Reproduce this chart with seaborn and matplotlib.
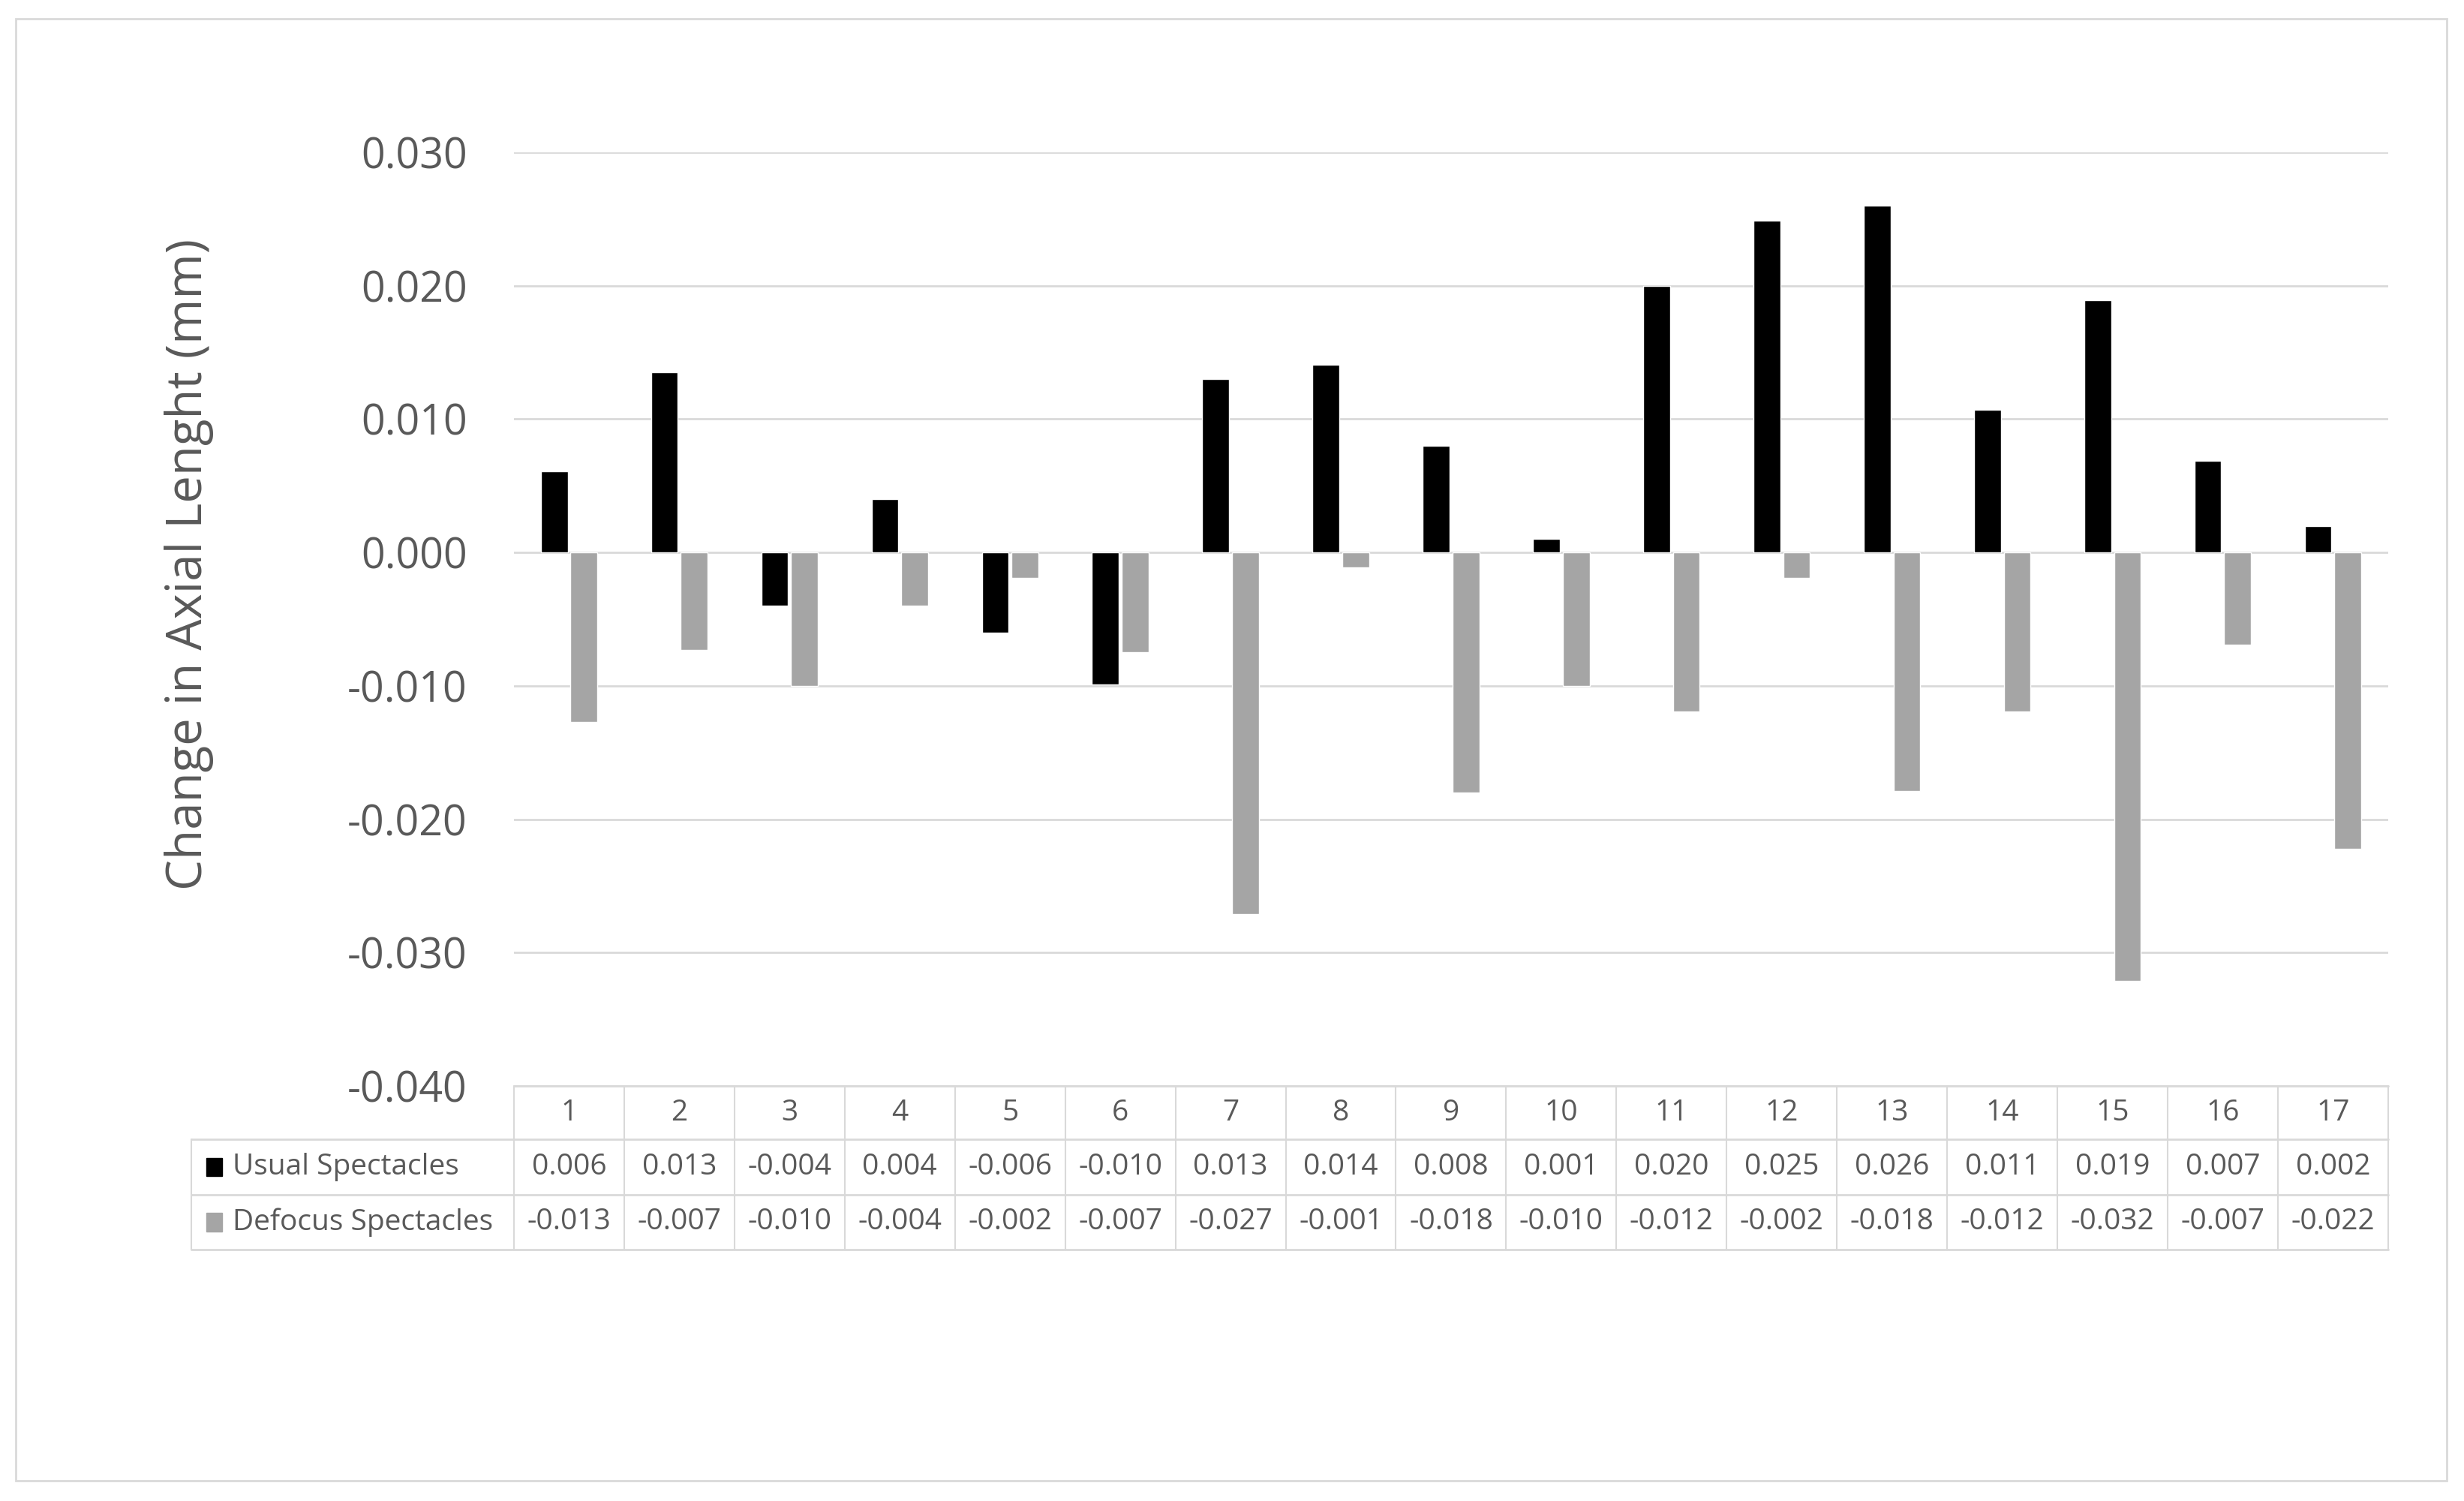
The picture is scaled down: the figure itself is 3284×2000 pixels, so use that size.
import numpy as np
import pandas as pd
import matplotlib
matplotlib.use("Agg")
import matplotlib.pyplot as plt
from matplotlib.patches import Rectangle
import seaborn as sns

# values
subjects = [str(i) for i in range(1, 18)]
usual = [0.0061, 0.0135, -0.0040, 0.0040, -0.0060, -0.0099, 0.0130, 0.0141, 0.0080,
         0.0010, 0.0200, 0.0249, 0.0260, 0.0107, 0.0189, 0.0069, 0.0020]
defocus = [-0.0127, -0.0073, -0.0100, -0.0040, -0.0019, -0.0075, -0.0271, -0.0011, -0.0180,
           -0.0100, -0.0119, -0.0019, -0.0179, -0.0119, -0.0321, -0.0069, -0.0222]

# values printed in the data table under the chart
usual_labels = ["0.006", "0.013", "-0.004", "0.004", "-0.006", "-0.010", "0.013", "0.014", "0.008",
                "0.001", "0.020", "0.025", "0.026", "0.011", "0.019", "0.007", "0.002"]
defocus_labels = ["-0.013", "-0.007", "-0.010", "-0.004", "-0.002", "-0.007", "-0.027", "-0.001", "-0.018",
                  "-0.010", "-0.012", "-0.002", "-0.018", "-0.012", "-0.032", "-0.007", "-0.022"]

series_names = ["Usual Spectacles", "Defocus Spectacles"]
series_colors = ["#000000", "#A5A5A5"]
y_ticks = [-0.040, -0.030, -0.020, -0.010, 0.000, 0.010, 0.020, 0.030]

df = pd.DataFrame({
    "subject": subjects * 2,
    "change": usual + defocus,
    "group": [series_names[0]] * len(subjects) + [series_names[1]] * len(subjects),
})

sns.set_theme(style="white")
plt.rcParams["font.family"] = ["Open Sans", "DejaVu Sans"]
text_color = "#595959"
line_color = "#D9D9D9"

fig = plt.figure(figsize=(32.84, 20), dpi=100)
ax = fig.add_axes([0.2086, 0.2765, 0.9692 - 0.2086, 0.8985 - 0.2765])

sns.barplot(data=df, x="subject", y="change", hue="group", order=subjects,
            hue_order=series_names, palette=dict(zip(series_names, series_colors)),
            width=0.54, gap=0.1, legend=False, ax=ax, saturation=1)

ax.set_ylim(-0.040, 0.030)
ax.set_xlim(-0.5, len(subjects) - 0.5)
ax.set_yticks(y_ticks)
ax.set_yticklabels([f"{t:.3f}" for t in y_ticks])
ax.tick_params(axis="y", length=0, pad=45, labelsize=40, labelcolor=text_color)
ax.tick_params(axis="x", bottom=False, labelbottom=False)
ax.set_xlabel("")
ax.set_ylabel("Change in Axial Lenght (mm)", fontsize=47, color=text_color)
ax.yaxis.set_label_coords(-0.160, 0.559)
ax.yaxis.grid(True, color=line_color, lw=2)
ax.set_axisbelow(True)
for s in ax.spines.values():
    s.set_visible(False)

# data table below the plot, in axes coordinates
tr = ax.transAxes
n = len(subjects)
rows = [0.0, -0.0571, -0.1166, -0.1752]
label_left = -0.172
lw = 2
ax.plot([0, 1], [rows[0], rows[0]], transform=tr, color=line_color, lw=lw, clip_on=False)
for r in rows[1:]:
    ax.plot([label_left, 1], [r, r], transform=tr, color=line_color, lw=lw, clip_on=False)
for i in range(n + 1):
    ax.plot([i / n, i / n], [rows[0], rows[3]], transform=tr, color=line_color, lw=1.5, clip_on=False)
ax.plot([label_left, label_left], [rows[1], rows[3]], transform=tr, color=line_color, lw=1.5, clip_on=False)

for i, s in enumerate(subjects):
    xc = (i + 0.5) / n
    ax.text(xc, (rows[0] + rows[1]) / 2, s, transform=tr, ha="center", va="center",
            fontsize=28, color=text_color)
    ax.text(xc, (rows[1] + rows[2]) / 2, usual_labels[i], transform=tr, ha="center", va="center",
            fontsize=28, color=text_color)
    ax.text(xc, (rows[2] + rows[3]) / 2, defocus_labels[i], transform=tr, ha="center", va="center",
            fontsize=28, color=text_color)

for k, name in enumerate(series_names):
    yc = (rows[k + 1] + rows[k + 2]) / 2
    ax.add_patch(Rectangle((-0.1641, yc - 0.0098), 0.0084, 0.0196, transform=tr,
                           color=series_colors[k], clip_on=False))
    ax.text(-0.150, yc, name, transform=tr, ha="left", va="center", fontsize=28, color=text_color)

# light frame around the whole chart
fig.patches.append(Rectangle((0.0064, 0.0136), 0.993 - 0.0064, 0.9874 - 0.0136,
                             transform=fig.transFigure, fill=False, edgecolor=line_color, lw=2))

fig.savefig("out.png", dpi=100)
